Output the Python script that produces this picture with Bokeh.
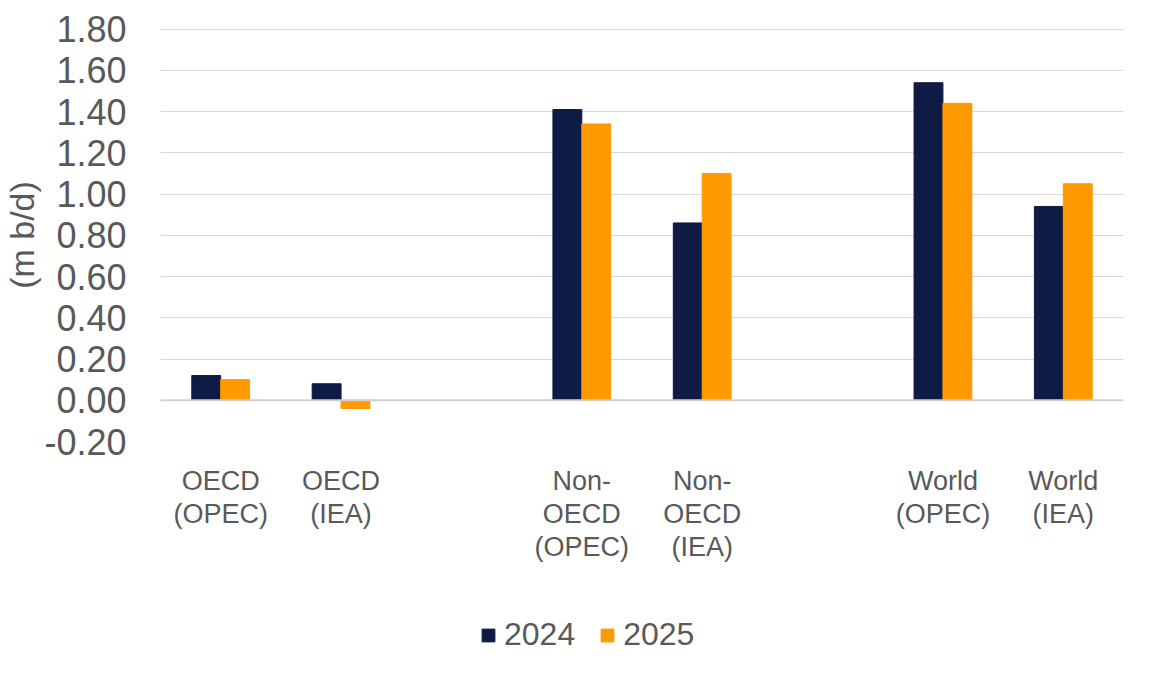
from bokeh.embed import file_html
from bokeh.layouts import column
from bokeh.models import (ColumnDataSource, FactorRange, Legend, LegendItem,
                          NumeralTickFormatter, Span, FixedTicker, Range1d)
from bokeh.plotting import figure
from bokeh.resources import INLINE
from bokeh.transform import dodge

# Data (m b/d); blank slots are the gaps between groups
slot_labels = ["OECD\n(OPEC)", "OECD\n(IEA)", " ", "Non-\nOECD\n(OPEC)",
               "Non-\nOECD\n(IEA)", "  ", "World\n(OPEC)", "World\n(IEA)"]
growth_2024 = [0.12, 0.08, None, 1.41, 0.86, None, 1.54, 0.94]
growth_2025 = [0.10, -0.04, None, 1.34, 1.10, None, 1.44, 1.05]
y_ticks = [-0.2, 0.0, 0.2, 0.4, 0.6, 0.8, 1.0, 1.2, 1.4, 1.6, 1.8]
series_names = ["2024", "2025"]

NAVY = "#0e1b44"
ORANGE = "#ff9900"
TEXT = "#595959"
FONT = "Liberation Sans"

keep = [i for i, v in enumerate(growth_2024) if v is not None]
source = ColumnDataSource(data=dict(
    slot=[slot_labels[i] for i in keep],
    y2024=[growth_2024[i] for i in keep],
    y2025=[growth_2025[i] for i in keep],
))

p = figure(frame_width=963, frame_height=413, x_range=FactorRange(*slot_labels),
           y_range=Range1d(-0.2, 1.803), output_backend="svg",
           toolbar_location=None, min_border_left=152, min_border_right=20,
           min_border_top=28, min_border_bottom=130)

p.vbar(x=dodge("slot", -0.12, range=p.x_range), top="y2024", width=0.24,
       source=source, color=NAVY)
p.vbar(x=dodge("slot", 0.12, range=p.x_range), top="y2025", width=0.24,
       source=source, color=ORANGE)

p.add_layout(Span(location=0, dimension="width", line_color="#d0d0d0",
                  line_width=2))

p.outline_line_color = None
p.xgrid.grid_line_color = None
p.ygrid.grid_line_color = "#d9d9d9"
p.ygrid.grid_line_width = 1

p.yaxis.ticker = FixedTicker(ticks=y_ticks)
p.yaxis.formatter = NumeralTickFormatter(format="0.00")
p.yaxis.axis_label = "(m b/d)"
p.yaxis.axis_label_text_font = FONT
p.yaxis.axis_label_text_font_style = "normal"
p.yaxis.axis_label_text_font_size = "34px"
p.yaxis.axis_label_text_color = TEXT
p.yaxis.axis_label_standoff = 0

for ax in (p.xaxis, p.yaxis):
    ax.axis_line_color = None
    ax.major_tick_line_color = None
    ax.minor_tick_line_color = None
    ax.major_label_text_font = FONT
    ax.major_label_text_color = TEXT

p.yaxis.major_label_text_font_size = "36px"
p.yaxis.major_label_standoff = 28
p.xaxis.major_label_text_font_size = "27px"
p.xaxis.major_label_text_line_height = 1.1
p.xaxis.major_label_standoff = 18

# legend lives in its own strip below the chart (frames are aligned by column)
lg = figure(width=1135, height=90, output_backend="svg", toolbar_location=None,
            min_border=0, x_range=(0, 1), y_range=(0, 1))
lg.axis.visible = False
lg.grid.visible = False
lg.outline_line_color = None
offscreen = ColumnDataSource(data=dict(x=[-10], top=[-10]))
k24 = lg.vbar(x="x", top="top", width=0.1, source=offscreen, color=NAVY)
k25 = lg.vbar(x="x", top="top", width=0.1, source=offscreen, color=ORANGE)

legend = Legend(items=[LegendItem(label=series_names[0], renderers=[k24]),
                       LegendItem(label=series_names[1], renderers=[k25])],
                orientation="horizontal", location=(320, 8),
                label_text_font=FONT, label_text_font_size="32px",
                label_text_color=TEXT, glyph_width=16, glyph_height=16,
                spacing=24, label_standoff=8, border_line_color=None,
                background_fill_alpha=0, padding=0, margin=0)
lg.add_layout(legend, "center")

open("out.html", "w").write(file_html(column(p, lg), INLINE))
